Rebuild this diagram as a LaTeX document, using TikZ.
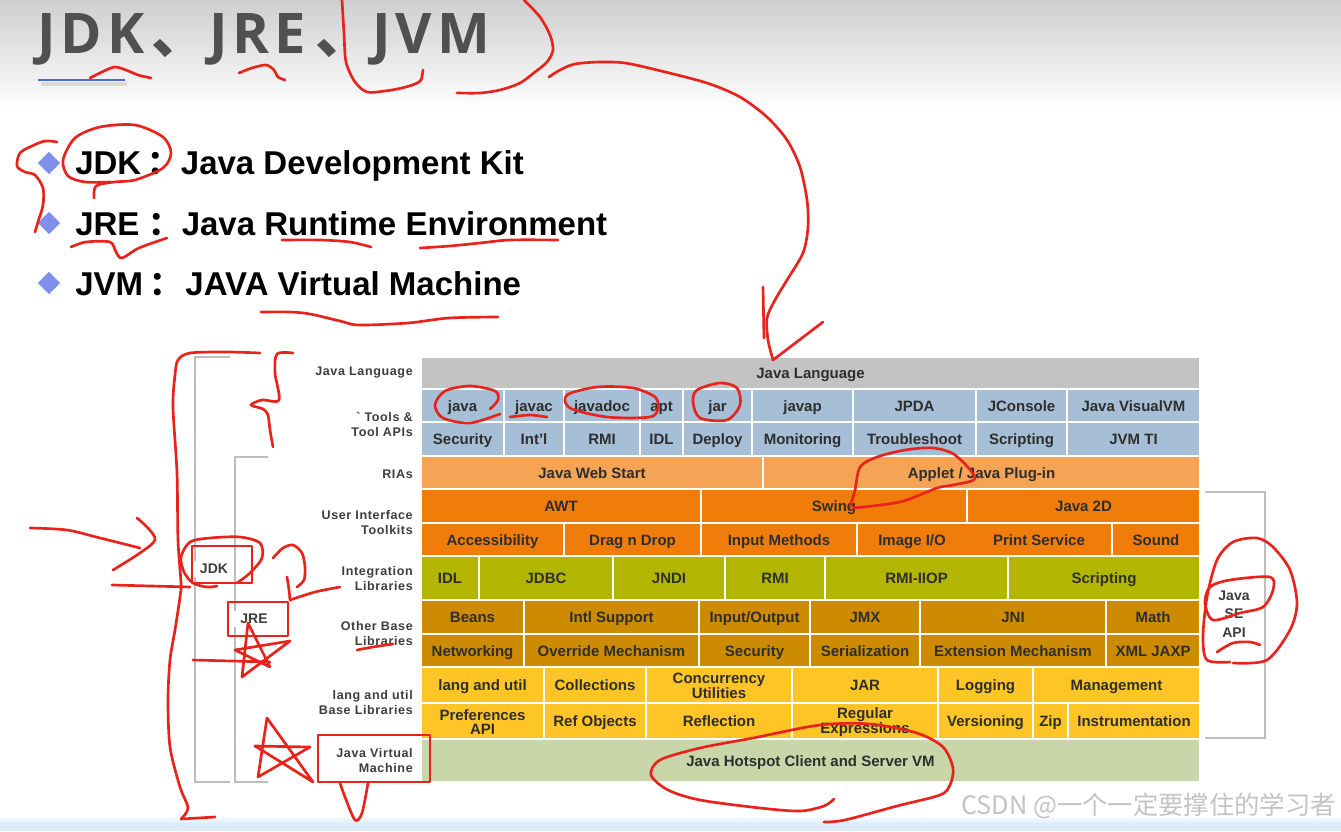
\documentclass[tikz,border=0pt]{standalone}
\usepackage{fontspec}
\setmainfont{Liberation Sans}
\newfontfamily\titlefont[LetterSpace=9]{Open Sans}
\newfontfamily\lblfont[LetterSpace=5]{Liberation Sans}
\newfontfamily\cjk{Noto Sans CJK SC}
\usetikzlibrary{shapes.geometric}
\definecolor{titlegray}{HTML}{505050}
\definecolor{blueline}{HTML}{4A6BD0}
\definecolor{bulletblue}{HTML}{7F90EA}
\definecolor{cLang}{HTML}{C3C3C3}
\definecolor{cTool}{HTML}{A6BED6}
\definecolor{cRia}{HTML}{F5A455}
\definecolor{cUi}{HTML}{F07D0A}
\definecolor{cInt}{HTML}{B3B600}
\definecolor{cOth}{HTML}{CC8B00}
\definecolor{cLng}{HTML}{FFC526}
\definecolor{cJvm}{HTML}{C8D6AA}
\definecolor{celltext}{HTML}{2E2E2E}
\definecolor{lbltext}{HTML}{3D3D3D}
\definecolor{brgray}{HTML}{BDBDBD}
\definecolor{inkred}{HTML}{E8231B}
\definecolor{bandblue}{HTML}{DCEBF7}
\definecolor{wmgray}{HTML}{C4C4C4}
% one-line cell: text on a baseline
\newcommand\jcell[7]{%
  \filldraw[fill=#6, draw=white, line width=1.6pt] (#2,#3) rectangle (#4,#5);
  \node[ctext, anchor=base] (#1) at ({(#2+#4)/2},{(#3+#5)/2+5.5}) {#7};}
% two-line cell: centred block
\newcommand\jcellii[7]{%
  \filldraw[fill=#6, draw=white, line width=1.6pt] (#2,#3) rectangle (#4,#5);
  \node[ctext] (#1) at ({(#2+#4)/2},{(#3+#5)/2+1}) {#7};}
\begin{document}
\begin{tikzpicture}[x=0.75pt,y=-0.75pt,
  ctext/.style={font=\bfseries\fontsize{11.25}{10.2}\selectfont, text=celltext, align=center, inner sep=0},
  lbl/.style={font=\lblfont\bfseries\fontsize{9.4}{11.25}\selectfont, text=lbltext, align=right, anchor=east, inner sep=0},
  bullettext/.style={font=\bfseries\fontsize{24.75}{26}\selectfont, anchor=base west, inner sep=0},
  bullet/.style={diamond, fill=bulletblue, minimum width=17pt, minimum height=17pt, inner sep=0},
  ttl/.style={anchor=base west, inner sep=0, font=\titlefont\bfseries\fontsize{42}{42}\selectfont, text=titlegray},
  ttlc/.style={anchor=base west, inner sep=0, font=\cjk\bfseries\fontsize{42}{42}\selectfont, text=titlegray},
  bracket/.style={draw=brgray, line width=1.5pt},
  ink/.style={draw=inkred, line width=2pt, line cap=round, line join=round}]
\useasboundingbox (0,0) rectangle (1341,831);
% background
\fill[white] (0,0) rectangle (1341,831);
\shade[top color=gray!38, bottom color=white] (0,0) rectangle (1341,110);
\shade[top color=white, bottom color=bandblue] (0,815) rectangle (1341,824);
\fill[bandblue] (0,824) rectangle (1341,831);
% title
\node[ttl] (tJDK) at (37,54) {JDK};
\node[ttlc] (tc1) at (151,54) {、};
\node[ttl] (tJRE) at (209,54) {JRE};
\node[ttlc] (tc2) at (315,54) {、};
\node[ttl] (tJVM) at (372,54) {JVM};
\draw[line width=2.6pt, gray!30] (41,84) -- (127,84);
\draw[line width=2.2pt, blueline] (38,80) -- (125,80);
% bullets
\node[bullet] (d1) at (49,163) {};
\node[bullet] (d2) at (49,223) {};
\node[bullet] (d3) at (49,283) {};
\node[bullettext] (b1) at (75,175) {JDK\kern5pt{\cjk：}Java Development Kit};
\node[bullettext] (b2) at (75,235) {JRE\kern7pt{\cjk：}Java Runtime Environment};
\node[bullettext] (b3) at (75,295) {JVM\kern5pt{\cjk：}\kern2pt JAVA Virtual Machine};
% brackets
\draw[bracket] (230,357) -- (195,357) -- (195,782) -- (230,782);
\draw[bracket] (268,457) -- (235,457) -- (235,782) -- (268,782);
\draw[bracket] (1205,492) -- (1265,492) -- (1265,738) -- (1205,738);
\node[fill=white, minimum width=30pt, inner sep=2pt, font=\bfseries\fontsize{10.5}{12}\selectfont, text=lbltext] (jdkL) at (214,569) {JDK};
\node[fill=white, minimum width=33pt, inner sep=2pt, font=\bfseries\fontsize{10.5}{12}\selectfont, text=lbltext] (jreL) at (254,619) {JRE};
\node[font=\bfseries\fontsize{10.5}{13.8}\selectfont, text=lbltext, align=center, inner sep=0] (seapi) at (1234,614) {Java\\SE\\API};
% left labels
\node[lbl] (lJL) at (413,373) {Java Language};
\node[lbl] (lTools) at (413,424) {{\char"60} Tools \&\\Tool APIs};
\node[lbl] (lRIA) at (413,474) {RIAs};
\node[lbl] (lUI) at (413,523) {User Interface\\Toolkits};
\node[lbl] (lInt) at (413,579) {Integration\\Libraries};
\node[lbl] (lOth) at (413,634) {Other Base\\Libraries};
\node[lbl] (lLang) at (413,703) {lang and util\\Base Libraries};
\node[lbl] (lJVM) at (413,761) {Java Virtual\\Machine};
% table
\jcell{lang}{421}{357}{1200}{389}{cLang}{Java Language}
\jcell{tJava}{421}{389}{504}{422}{cTool}{java}
\jcell{tJavac}{504}{389}{564}{422}{cTool}{javac}
\jcell{tJavadoc}{564}{389}{640}{422}{cTool}{javadoc}
\jcell{tApt}{640}{389}{683}{422}{cTool}{apt}
\jcell{tJar}{683}{389}{752}{422}{cTool}{jar}
\jcell{tJavap}{752}{389}{853}{422}{cTool}{javap}
\jcell{tJPDA}{853}{389}{976}{422}{cTool}{JPDA}
\jcell{tJConsole}{976}{389}{1067}{422}{cTool}{JConsole}
\jcell{tVisualVM}{1067}{389}{1200}{422}{cTool}{Java VisualVM}
\jcell{sSecurity}{421}{422}{504}{456}{cTool}{Security}
\jcell{sIntl}{504}{422}{564}{456}{cTool}{Int'l}
\jcell{sRMI}{564}{422}{640}{456}{cTool}{RMI}
\jcell{sIDL}{640}{422}{683}{456}{cTool}{IDL}
\jcell{sDeploy}{683}{422}{752}{456}{cTool}{Deploy}
\jcell{sMon}{752}{422}{853}{456}{cTool}{Monitoring}
\jcell{sTrouble}{853}{422}{976}{456}{cTool}{Troubleshoot}
\jcell{sScript}{976}{422}{1067}{456}{cTool}{Scripting}
\jcell{sJVMTI}{1067}{422}{1200}{456}{cTool}{JVM TI}
\jcell{rWeb}{421}{456}{763}{489}{cRia}{Java Web Start}
\jcell{rApplet}{763}{456}{1200}{489}{cRia}{Applet / Java Plug-in}
\jcell{uAWT}{421}{489}{701}{523}{cUi}{AWT}
\jcell{uSwing}{701}{489}{967}{523}{cUi}{Swing}
\jcell{u2D}{967}{489}{1200}{523}{cUi}{Java 2D}
\jcell{vAcc}{421}{523}{564}{556}{cUi}{Accessibility}
\jcell{vDnD}{564}{523}{701}{556}{cUi}{Drag n Drop}
\jcell{vInput}{701}{523}{857}{556}{cUi}{Input Methods}
\filldraw[fill=cUi, draw=white, line width=1.6pt] (857,523) rectangle (1112,556);
\node[ctext, anchor=base] (vImage) at (912,545) {Image I/O};
\node[ctext, anchor=base] (vPrint) at (1039,545) {Print Service};
\jcell{vSound}{1112}{523}{1200}{556}{cUi}{Sound}
\jcell{iIDL}{421}{556}{479}{600}{cInt}{IDL}
\jcell{iJDBC}{479}{556}{613}{600}{cInt}{JDBC}
\jcell{iJNDI}{613}{556}{725}{600}{cInt}{JNDI}
\jcell{iRMI}{725}{556}{825}{600}{cInt}{RMI}
\jcell{iIIOP}{825}{556}{1008}{600}{cInt}{RMI-IIOP}
\jcell{iScript}{1008}{556}{1200}{600}{cInt}{Scripting}
\jcell{oBeans}{421}{600}{524}{634}{cOth}{Beans}
\jcell{oIntl}{524}{600}{699}{634}{cOth}{Intl Support}
\jcell{oIO}{699}{600}{810}{634}{cOth}{Input/Output}
\jcell{oJMX}{810}{600}{920}{634}{cOth}{JMX}
\jcell{oJNI}{920}{600}{1106}{634}{cOth}{JNI}
\jcell{oMath}{1106}{600}{1200}{634}{cOth}{Math}
\jcell{pNet}{421}{634}{524}{667}{cOth}{Networking}
\jcell{pOver}{524}{634}{699}{667}{cOth}{Override Mechanism}
\jcell{pSec}{699}{634}{810}{667}{cOth}{Security}
\jcell{pSer}{810}{634}{920}{667}{cOth}{Serialization}
\jcell{pExt}{920}{634}{1106}{667}{cOth}{Extension Mechanism}
\jcell{pXML}{1106}{634}{1200}{667}{cOth}{XML JAXP}
\jcell{gLang}{421}{667}{544}{703}{cLng}{lang and util}
\jcell{gColl}{544}{667}{646}{703}{cLng}{Collections}
\jcellii{gConc}{646}{667}{792}{703}{cLng}{Concurrency\\Utilities}
\jcell{gJAR}{792}{667}{938}{703}{cLng}{JAR}
\jcell{gLog}{938}{667}{1033}{703}{cLng}{Logging}
\jcell{gMan}{1033}{667}{1200}{703}{cLng}{Management}
\jcellii{hPref}{421}{703}{544}{739}{cLng}{Preferences\\API}
\jcell{hRef}{544}{703}{646}{739}{cLng}{Ref Objects}
\jcell{hRefl}{646}{703}{792}{739}{cLng}{Reflection}
\jcellii{hRegex}{792}{703}{938}{739}{cLng}{Regular\\Expressions}
\jcell{hVer}{938}{703}{1033}{739}{cLng}{Versioning}
\jcell{hZip}{1033}{703}{1068}{739}{cLng}{Zip}
\jcell{hInst}{1068}{703}{1200}{739}{cLng}{Instrumentation}
\jcell{jvm}{421}{739}{1200}{782}{cJvm}{Java Hotspot Client and Server VM}
% watermark
\node[anchor=east, inner sep=0, font=\cjk\fontsize{19}{19}\selectfont, text=wmgray] (wm) at (1336,806) {CSDN @一个一定要撑住的学习者};
% ---- red annotations ----
\draw[ink] plot[smooth] coordinates {(90,78) (104,71) (115,67) (126,70) (138,75) (151,78)};
\draw[ink] plot[smooth] coordinates {(239,73) (252,68) (266,65) (274,70) (278,77) (285,80)};
\draw[ink] plot[smooth] coordinates {(342,0) (344,33) (346,62) (355,82) (367,92) (385,91) (402,88) (415,84) (421,80) (423,70)};
\draw[ink] plot[smooth] coordinates {(524,0) (540,17) (550,35) (553,50) (547,62) (535,72) (520,83) (500,90) (480,93) (457,93)};
\draw[ink] plot[smooth] coordinates {(549,77) (560,70) (575,64) (600,62) (625,63) (657,70) (707,83) (740,97) (767,117) (787,140) (800,167) (807,200) (808,227) (803,253) (787,280) (775,300) (767,318) (768,340) (773,360)};
\draw[ink] (763,287) -- (764,338);
\draw[ink] (773,360) -- (823,322);
\draw[ink] plot[smooth] coordinates {(94,198) (96,186) (114,182) (135,180) (163,168) (171,153) (163,137) (135,125) (100,127) (75,138) (63,160) (68,176) (85,182) (110,182)};
\draw[ink] plot[smooth] coordinates {(57,142) (45,141) (32,146) (20,153) (17,166) (25,172) (35,175) (43,188) (43,205) (38,222) (35,232)};
\draw[ink] plot[smooth] coordinates {(71,247) (86,242) (110,242) (116,252) (122,258) (139,248) (167,238)};
\draw[ink] plot[smooth] coordinates {(282,240) (320,240) (350,242) (371,247)};
\draw[ink] plot[smooth] coordinates {(420,248) (450,246) (480,243) (510,240) (558,240)};
\draw[ink] plot[smooth] coordinates {(261,312) (290,312) (310,314) (340,321) (359,325) (408,323) (449,318) (498,317)};
% left side
\draw[ink] plot[smooth] coordinates {(260,353) (227,352) (190,353) (178,360) (175,375) (173,407) (177,473) (178,540) (181,583) (180,597) (175,630) (170,660) (168,700) (170,747) (180,787) (188,808) (181,819)};
\draw[ink] (181,819) -- (215,817);
\draw[ink] plot[smooth] coordinates {(293,353) (277,354) (275,373) (279,400) (262,400) (251,405) (263,409) (268,415) (270,430) (273,447)};
\draw[ink] (192,546) rectangle (252,583);
\draw[ink] plot[smooth] coordinates {(237,583) (250,573) (262,558) (260,543) (240,537) (210,538) (190,542) (181,557) (184,572) (193,583) (207,587) (217,586)};
\draw[ink] (112,585) -- (190,587);
\draw[ink] plot[smooth] coordinates {(30,528) (67,530) (100,538) (140,548)};
\draw[ink] plot[smooth] coordinates {(137,518) (148,528) (155,540) (140,553) (113,570)};
\draw[ink] plot[smooth] coordinates {(273,558) (283,548) (293,545) (302,553) (305,567) (304,580) (297,587)};
\draw[ink] plot[smooth] coordinates {(287,577) (289,590) (290,600)};
\draw[ink] plot[smooth] coordinates {(290,600) (315,592) (340,587)};
\draw[ink] (228,602) rectangle (288,636);
\draw[ink] (242,677) -- (248,623) -- (270,667) -- (235,650) -- (290,641) -- cycle;
\draw[ink] (193,660) -- (270,662);
\draw[ink] plot[smooth] coordinates {(357,650) (373,647) (393,644)};
\draw[ink] (318,735) rectangle (430,782);
\draw[ink] (258,777) -- (267,718) -- (313,782) -- (255,746) -- (310,747) -- cycle;
\draw[ink] plot[smooth] coordinates {(340,783) (345,797) (355,820) (362,813) (368,783)};
% table annotations
\draw[ink] plot[smooth] coordinates {(490,409) (498,400) (495,391) (470,386) (445,391) (435,405) (443,418) (470,423) (500,414)};
\draw[ink] plot[smooth] coordinates {(510,417) (530,415) (547,417)};
\draw[ink] plot[smooth cycle] coordinates {(567,395) (597,387) (633,388) (655,397) (658,408) (650,417) (607,417) (570,408)};
\draw[ink] plot[smooth cycle] coordinates {(720,383) (737,388) (740,405) (727,420) (700,418) (693,402) (697,390)};
\draw[ink] plot[smooth] coordinates {(850,507) (855,490) (860,467) (877,457) (905,450) (933,448) (955,455) (975,478) (953,485) (937,488) (900,502) (853,508)};
\draw[ink] plot[smooth] coordinates {(834,799) (824,806) (800,811) (760,808) (700,800) (668,790) (651,775) (660,760) (700,748) (753,738) (820,725) (870,724) (917,733) (943,747) (953,768) (950,785) (940,795) (897,806) (845,820) (824,822)};
\draw[ink] plot[smooth] coordinates {(1233,663) (1267,660) (1290,630) (1297,603) (1290,570) (1273,547) (1257,538) (1233,542) (1217,560) (1207,597) (1203,637) (1207,660) (1230,662)};
\draw[ink] plot[smooth cycle] coordinates {(1230,580) (1270,577) (1273,590) (1263,607) (1240,613) (1213,620) (1205,603) (1210,587)};
\draw[ink] plot[smooth] coordinates {(1217,652) (1233,643) (1250,642) (1260,645)};
\end{tikzpicture}
\end{document}
